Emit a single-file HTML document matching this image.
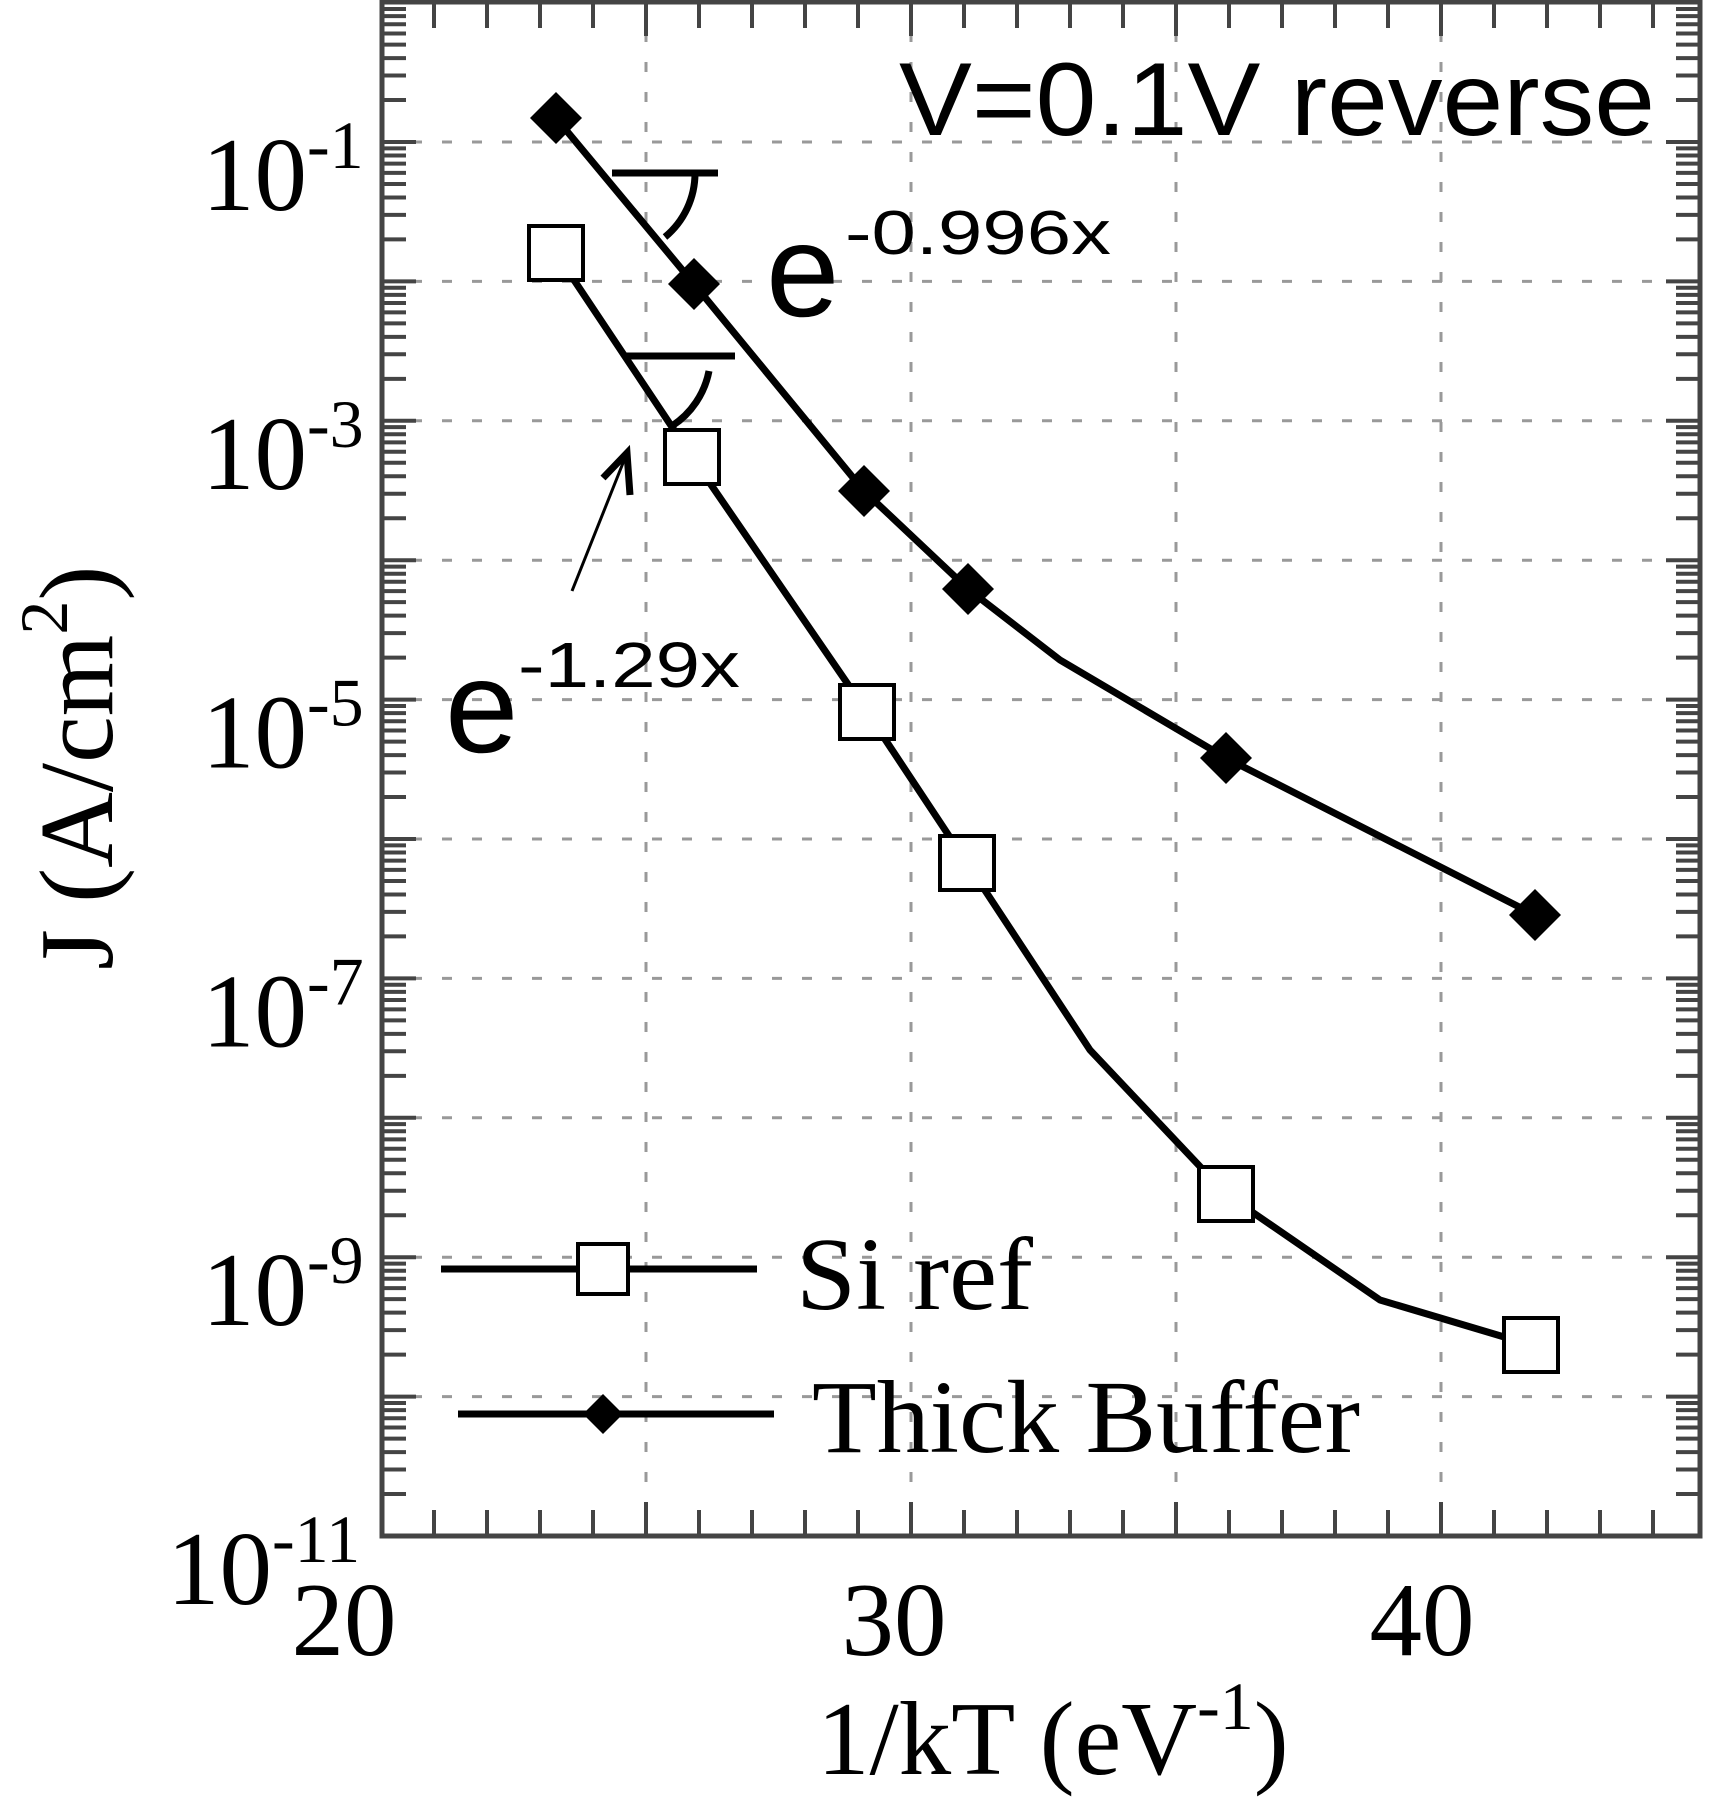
<!DOCTYPE html>
<html><head><meta charset="utf-8"><style>
html,body{margin:0;padding:0;background:#fff;}
svg{display:block}
.t{font-family:"Liberation Serif",serif;fill:#000}
.s{font-family:"Liberation Sans",sans-serif;fill:#000}
</style></head><body>
<svg id="c" width="1709" height="1800" viewBox="0 0 1709 1800" xmlns="http://www.w3.org/2000/svg">
<g id="grid" stroke="#999" stroke-width="3" stroke-dasharray="10,20"></g>
<g id="ticks" stroke="#444" stroke-width="4"></g>
<rect x="382" y="2" width="1318" height="1534" fill="none" stroke="#444" stroke-width="5"/>
<g fill="none" stroke="#000" stroke-width="7" stroke-linejoin="round">
<polyline points="556,118 694,284 864,491 968,589 1060,660 1226,758 1535,915"/>
<polyline points="556,253 692,457 867,712 967,863 1090,1050 1226,1194 1380,1300 1531,1345"/>
<line x1="612" y1="173" x2="718" y2="173"/>
<path d="M695,173 A83,83 0 0 1 665,237"/>
<line x1="625" y1="356" x2="735" y2="356"/>
<path d="M709,371 A85,85 0 0 1 672,426"/>
<line x1="441" y1="1269" x2="757" y2="1269"/>
<line x1="458" y1="1414" x2="774" y2="1414"/>
</g>
<g fill="#000">
<path d="M556,92 L582,118 L556,144 L530,118Z"/>
<path d="M694,258 L720,284 L694,310 L668,284Z"/>
<path d="M864,465 L890,491 L864,517 L838,491Z"/>
<path d="M968,563 L994,589 L968,615 L942,589Z"/>
<path d="M1226,732 L1252,758 L1226,784 L1200,758Z"/>
<path d="M1535,889 L1561,915 L1535,941 L1509,915Z"/>
<path d="M603,1394 L623,1414 L603,1434 L583,1414Z"/>
</g>
<g fill="#fff" stroke="#000" stroke-width="4">
<rect x="529" y="226" width="54" height="54"/>
<rect x="665" y="430" width="54" height="54"/>
<rect x="840" y="685" width="54" height="54"/>
<rect x="940" y="836" width="54" height="54"/>
<rect x="1199" y="1167" width="54" height="54"/>
<rect x="1504" y="1318" width="54" height="54"/>
<rect x="578" y="1244" width="50" height="50"/>
</g>
<line x1="572" y1="591" x2="625" y2="458" stroke="#000" stroke-width="3"/>
<path d="M603,478 L627,453 L630,495" fill="none" stroke="#000" stroke-width="7"/>
<text class="s" x="899" y="135" font-size="104" textLength="756" lengthAdjust="spacingAndGlyphs">V=0.1V reverse</text>
<text class="s" x="766" y="316" font-size="132">e</text>
<text class="s" x="845" y="254" font-size="62" textLength="266" lengthAdjust="spacingAndGlyphs">-0.996x</text>
<text class="s" x="445" y="752" font-size="132">e</text>
<text class="s" x="518" y="687" font-size="64" textLength="222" lengthAdjust="spacingAndGlyphs">-1.29x</text>
<text class="t" x="796" y="1309" font-size="104" textLength="237" lengthAdjust="spacingAndGlyphs">Si ref</text>
<text class="t" x="812" y="1452" font-size="104" textLength="548" lengthAdjust="spacingAndGlyphs">Thick Buffer</text>
<g id="lab"></g>
<text class="t" x="817" y="1774" font-size="105">1/kT (eV<tspan font-size="68" dy="-45">-1</tspan><tspan dy="45">)</tspan></text>
<text class="t" transform="translate(112,970) rotate(-90)" font-size="105">J (A/cm<tspan font-size="68" dy="-45">2</tspan><tspan dy="45">)</tspan></text>
</svg>
<script>
var ns="http://www.w3.org/2000/svg";
function el(p,t,a,txt){var e=document.createElementNS(ns,t);for(var k in a)e.setAttribute(k,a[k]);if(txt)e.textContent=txt;document.getElementById(p).appendChild(e);return e;}
function Y(e){return 2.6+(-e)*139.4;}
function X(v){return 381+(v-20)*53;}
for(var e=-1;e>=-10;e--){el("grid","line",{x1:382,x2:1700,y1:Y(e),y2:Y(e)});}
[25,30,35,40].forEach(function(v){el("grid","line",{x1:X(v),x2:X(v),y1:2,y2:1536});});
for(var e=-11;e<0;e++){for(var m=1;m<10;m++){var y=Y(e+Math.log10(m));if(y<2)continue;var L=m==1?34:24;
el("ticks","line",{x1:382,x2:382+L,y1:y,y2:y});el("ticks","line",{x1:1700,x2:1700-L,y1:y,y2:y});}}
for(var v=21;v<45;v++){var L=(v%5==0)?34:26;el("ticks","line",{x1:X(v),x2:X(v),y1:1536,y2:1536-L});el("ticks","line",{x1:X(v),x2:X(v),y1:2,y2:2+L});}
[-1,-3,-5,-7,-9,-11].forEach(function(e){var t=el("lab","text",{"class":"t",x:e==-11?167:202,y:Y(e)+68,"font-size":105},"10");
var s=document.createElementNS(ns,"tspan");s.setAttribute("font-size","68");s.setAttribute("dy","-42");s.textContent=String(e);t.appendChild(s);});
[[20,344],[30,894],[40,1422]].forEach(function(a){el("lab","text",{"class":"t",x:a[1],y:1655,"font-size":105,"text-anchor":"middle"},String(a[0]));});
</script>
</body></html>
